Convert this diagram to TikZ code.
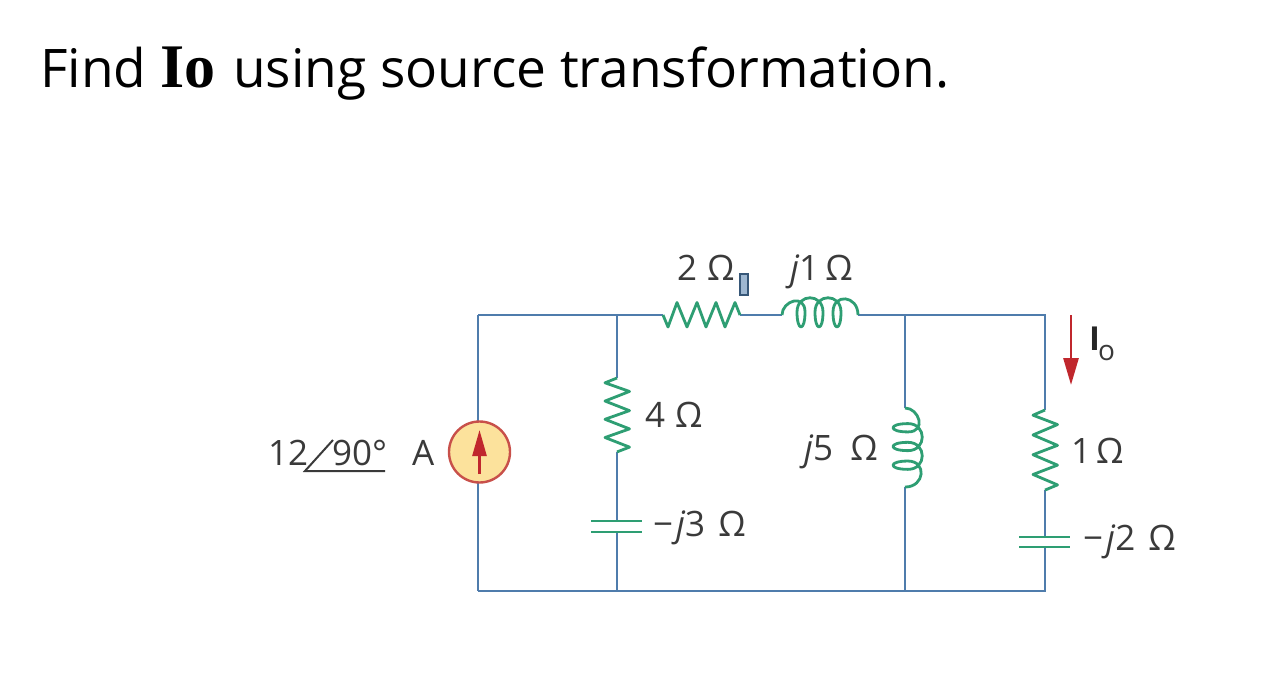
\documentclass[tikz,border=0pt]{standalone}
\usepackage{fontspec}
\setmainfont{Open Sans}
\newfontfamily\serifbold{Liberation Serif}
\usetikzlibrary{arrows.meta}
\definecolor{wireblue}{HTML}{4F7CAC}
\definecolor{partgreen}{HTML}{2E9E73}
\definecolor{arrowred}{HTML}{C0272D}
\definecolor{srcfill}{HTML}{FCE29C}
\definecolor{srcline}{HTML}{C8504A}
\definecolor{labelgrey}{HTML}{3A3A3A}
\tikzset{
  wire/.style={draw=wireblue,line width=2.8pt},
  part/.style={draw=partgreen,line width=2.8pt,line join=round},
  lab/.style={anchor=base west,inner sep=0pt,outer sep=0pt,text=labelgrey,font=\fontsize{35}{38}\selectfont},
  redarrow/.style={draw=arrowred,line width=2.8pt,-{Triangle[length=27pt,width=15pt,fill=arrowred]}},
}
\newcommand{\zigpart}[3]{\draw[part,shift={#1},rotate=#2,#3] (0,0) -- (5,-12) -- (14,12.5) -- (24,-12) -- (34,12.5) -- (43,-12) -- (53,12.5) -- (62,-12) -- (72,12.5) -- (77,0);}
\newcommand{\coilpart}[3]{\draw[part,shift={#1},rotate=#2,#3] (0,0) .. controls (0,14) and (23,22) .. (23,3) .. controls (23,-17) and (15,-17) .. (15,3) .. controls (15,22) and (41,22) .. (41,3) .. controls (41,-17) and (33,-17) .. (33,3) .. controls (33,22) and (59,22) .. (59,3) .. controls (59,-17) and (51,-17) .. (51,3) .. controls (51,22) and (76,20) .. (76,0);}
\begin{document}
\begin{tikzpicture}[x=1pt,y=1pt]
\useasboundingbox (0,0) rectangle (1279,-685);
% title
\node[anchor=base west,inner sep=0pt,font=\fontsize{53.2}{60}\selectfont,text=black] (title) at (40,-88) {Find {\serifbold\bfseries\fontsize{62}{62}\selectfont Io}\hspace{4pt} using source transformation.};
% junctions
\coordinate (tl) at (478,-315);
\coordinate (t1) at (617,-315);
\coordinate (r2a) at (663,-315);
\coordinate (r2b) at (740,-315);
\coordinate (l1a) at (782,-315);
\coordinate (l1b) at (858,-315);
\coordinate (t2) at (905,-315);
\coordinate (tr) at (1045,-315);
\coordinate (bl) at (478,-591);
\coordinate (b1) at (617,-591);
\coordinate (b2) at (905,-591);
\coordinate (br) at (1045,-591);
\coordinate (r4a) at (617,-378);
\coordinate (r4b) at (617,-452);
\coordinate (c3a) at (617,-521);
\coordinate (c3b) at (617,-532);
\coordinate (l5a) at (905,-408);
\coordinate (l5b) at (905,-487);
\coordinate (r1a) at (1045,-410);
\coordinate (r1b) at (1045,-490);
\coordinate (c2a) at (1045,-537);
\coordinate (c2b) at (1045,-547);
% wires
\draw[wire] (tl) -- (t1) -- (r2a);
\draw[wire] (r2b) -- (l1a);
\draw[wire] (l1b) -- (t2) -- (tr) -- (r1a);
\draw[wire] (bl) -- (b1) -- (b2) -- (br) -- (c2b);
\draw[wire] (r1b) -- (c2a);
\draw[wire] (t1) -- (r4a);
\draw[wire] (r4b) -- (c3a);
\draw[wire] (c3b) -- (b1);
\draw[wire] (t2) -- (l5a);
\draw[wire] (l5b) -- (b2);
% source
\draw[wire] (tl) -- (478,-425);
\draw[wire] (478,-480) -- (bl);
\node[circle,draw=srcline,fill=srcfill,line width=2.4pt,minimum size=61pt,inner sep=0pt] (src) at (479.5,-452) {};
\coordinate (sa) at (479.5,-474);
\coordinate (sb) at (479.5,-430);
\draw[draw=arrowred,line width=2.6pt,-{Triangle[length=26pt,width=14pt,fill=arrowred]}] (sa) -- (sb);
% parts
\zigpart{(r2a)}{0}{}
\coilpart{(l1a)}{0}{}
\zigpart{(r4a)}{-90}{xscale=0.96}
\coilpart{(l5a)}{-90}{xscale=1.04}
\zigpart{(r1a)}{-90}{xscale=1.04}
\draw[part] (591,-521) -- (642,-521) (591,-532) -- (642,-532);
\draw[part] (1019,-537) -- (1070,-537) (1019,-547) -- (1070,-547);
% cursor mark
\node[draw=black!30!wireblue,fill=wireblue!55!white,line width=2pt,minimum width=8pt,minimum height=21pt,inner sep=0pt] (cursor) at (744,-284.5) {};
% Io arrow
\coordinate (ioa) at (1071,-315);
\coordinate (iob) at (1071,-385);
\draw[redarrow] (ioa) -- (iob);
\node[anchor=base west,inner sep=0pt,font=\fontsize{33}{36}\selectfont\bfseries,text=black!85] (io) at (1089,-350) {I};
\node[anchor=base west,inner sep=0pt,font=\fontsize{28}{30}\selectfont,text=labelgrey] (iosub) at (1098,-360) {o};
% labels
\node[lab] (l2) at (677,-280) {2\hspace{1pt} Ω};
\node[lab] (lj1) at (790,-280) {\textit{j}1\hspace{-3pt} Ω};
\node[lab] (l4) at (645,-427) {4\hspace{1pt} Ω};
\node[lab] (lj5) at (804,-460) {\textit{j}5\hspace{8pt} Ω};
\node[lab] (l1) at (1071,-463) {1\hspace{-4pt} Ω};
\node[lab] (lj3) at (653,-536) {−\hspace{3pt}\textit{j}3\hspace{4pt} Ω};
\node[lab] (lj2) at (1083,-550) {−\hspace{3pt}\textit{j}2\hspace{4pt} Ω};
\node[lab] (l12) at (268,-465) {12};
\node[lab] (l90) at (332,-465) {90°};
\node[lab] (la) at (412,-465) {A};
\coordinate (ang0) at (305,-471);
\coordinate (ang1) at (385,-471);
\coordinate (ang2) at (333,-440);
\draw[draw=labelgrey,line width=2pt] (ang2) -- (ang0) -- (ang1);
\end{tikzpicture}
\end{document}
